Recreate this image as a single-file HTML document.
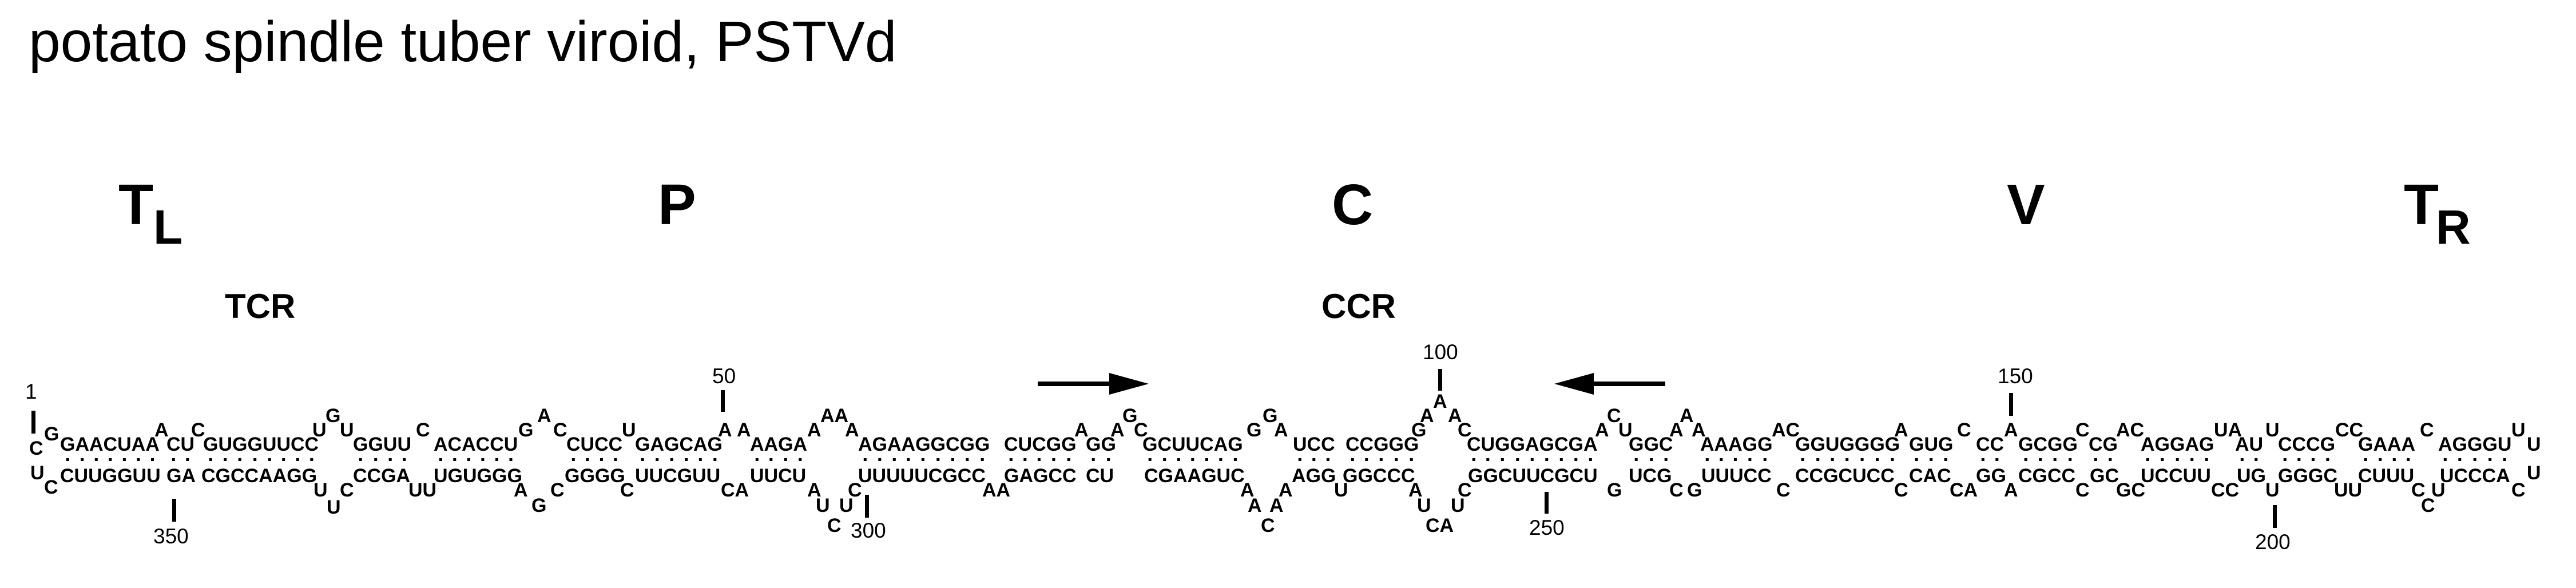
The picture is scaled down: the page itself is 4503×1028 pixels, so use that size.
<!DOCTYPE html>
<html><head><meta charset="utf-8">
<style>
html,body{margin:0;padding:0;background:#fff;}
svg{display:block;}
text{font-family:"Liberation Sans",Arial,sans-serif;fill:#000;}
.n{font-weight:bold;font-size:34px;}
.num{font-size:37px;}
.reg{font-weight:bold;font-size:100px;}
.sub{font-weight:bold;font-size:84px;}
.mid{font-weight:bold;font-size:60px;}
</style></head><body>
<svg id="s" width="4503" height="1028" viewBox="0 0 4503 1028" xmlns="http://www.w3.org/2000/svg">
<rect width="4503" height="1028" fill="#fff"/>
<text x="50" y="107" font-size="100">potato spindle tuber viroid, PSTVd</text>

<text class="reg" x="207" y="392">T</text><text class="sub" x="268" y="426">L</text>
<text class="reg" x="1150" y="392">P</text>
<text class="reg" x="2328" y="392">C</text>
<text class="reg" x="3508" y="392">V</text>
<text class="reg" x="4202" y="392">T</text><text class="sub" x="4258" y="426">R</text>
<text class="mid" x="393" y="556">TCR</text>
<text class="mid" x="2310" y="556">CCR</text>

<!-- arrows -->
<rect x="1814" y="667" width="128" height="8"/>
<polygon points="1939,652 2008,671 1939,690"/>
<rect x="2783" y="667" width="128" height="8"/>
<polygon points="2786,652 2717,671 2786,690"/>

<!-- ticks & numbers -->
<rect x="55" y="718" width="7" height="40"/><text class="num" x="44" y="697">1</text>
<rect x="301" y="872" width="7" height="40"/><text class="num" x="268" y="950">350</text>
<rect x="1260" y="682" width="7" height="38"/><text class="num" x="1245" y="670">50</text>
<rect x="1512" y="865" width="7" height="40"/><text class="num" x="1487" y="940">300</text>
<rect x="2514" y="645" width="7" height="38"/><text class="num" x="2487" y="628">100</text>
<rect x="2700" y="860" width="7" height="38"/><text class="num" x="2673" y="935">250</text>
<rect x="3512" y="687" width="7" height="40"/><text class="num" x="3492" y="670">150</text>
<rect x="3973" y="883" width="7" height="40"/><text class="num" x="3942" y="960">200</text>

<!-- left end -->
<text class="n" x="51" y="795">C</text>
<text class="n" x="53" y="838">U</text>
<text class="n" x="77" y="770">G</text>
<text class="n" x="77" y="863">C</text>

<!-- TOP STRAND -->
<text class="n p" x="105" y="788">GAACUAA</text>
<text class="n" x="270" y="763">A</text>
<text class="n p" x="291" y="788">CU</text>
<text class="n" x="334" y="763">C</text>
<text class="n p" x="355" y="788">GUGGUUCC</text>
<text class="n" x="546" y="763">U</text>
<text class="n" x="569" y="738">G</text>
<text class="n" x="594" y="763">U</text>
<text class="n p" x="617" y="788">GGUU</text>
<text class="n" x="727" y="763">C</text>
<text class="n p" x="758" y="788">ACACCU</text>
<text class="n" x="906" y="763">G</text>
<text class="n" x="939" y="738">A</text>
<text class="n" x="967" y="763">C</text>
<text class="n p" x="990" y="788">CUCC</text>
<text class="n" x="1087" y="763">U</text>
<text class="n p" x="1110" y="788">GAGCAG</text>
<text class="n" x="1255" y="763">A</text>
<text class="n" x="1288" y="763">A</text>
<text class="n p" x="1311" y="788">AAGA</text>
<text class="n" x="1411" y="763">A</text>
<text class="n" x="1434" y="738">AA</text>
<text class="n" x="1477" y="763">A</text>
<text class="n p" x="1500" y="788">AGAAGGCGG</text>
<text class="n p" x="1755" y="788">CUCGG</text>
<text class="n" x="1878" y="763">A</text>
<text class="n p" x="1898" y="788">GG</text>
<text class="n" x="1941" y="763">A</text>
<text class="n" x="1962" y="738">G</text>
<text class="n" x="1982" y="763">C</text>
<text class="n p" x="1997" y="788">GCUUCAG</text>
<text class="n" x="2179" y="763">G</text>
<text class="n" x="2207" y="738">G</text>
<text class="n" x="2227" y="763">A</text>
<text class="n p" x="2260" y="788">UCC</text>
<text class="n p" x="2352" y="788">CCGGG</text>
<text class="n" x="2467" y="763">G</text>
<text class="n" x="2482" y="738">A</text>
<text class="n" x="2505" y="713">A</text>
<text class="n" x="2531" y="738">A</text>
<text class="n" x="2548" y="763">C</text>
<text class="n p" x="2564" y="788">CUGGAGCGA</text>
<text class="n" x="2788" y="763">A</text>
<text class="n" x="2809" y="738">C</text>
<text class="n" x="2829" y="763">U</text>
<text class="n p" x="2847" y="788">GGC</text>
<text class="n" x="2918" y="763">A</text>
<text class="n" x="2936" y="738">A</text>
<text class="n" x="2957" y="763">A</text>
<text class="n p" x="2972" y="788">AAAGG</text>
<text class="n" x="3097" y="763">AC</text>
<text class="n p" x="3138" y="788">GGUGGGG</text>
<text class="n" x="3311" y="763">A</text>
<text class="n p" x="3337" y="788">GUG</text>
<text class="n" x="3421" y="763">C</text>
<text class="n p" x="3454" y="788">CC</text>
<text class="n" x="3503" y="763">A</text>
<text class="n p" x="3528" y="788">GCGG</text>
<text class="n" x="3628" y="763">C</text>
<text class="n p" x="3651" y="788">CG</text>
<text class="n" x="3699" y="763">AC</text>
<text class="n p" x="3742" y="788">AGGAG</text>
<text class="n" x="3870" y="763">UA</text>
<text class="n p" x="3907" y="788">AU</text>
<text class="n" x="3960" y="763">U</text>
<text class="n p" x="3982" y="788">CCCG</text>
<text class="n" x="4082" y="763">CC</text>
<text class="n p" x="4122" y="788">GAAA</text>
<text class="n" x="4230" y="763">C</text>
<text class="n p" x="4262" y="788">AGGGU</text>
<text class="n" x="4390" y="763">U</text>
<text class="n" x="4417" y="788">U</text>

<!-- BOTTOM STRAND -->
<text class="n" x="105" y="843">CUUGGUU</text>
<text class="n" x="291" y="843">GA</text>
<text class="n" x="352" y="843">CGCCAAGG</text>
<text class="n" x="548" y="868">U</text>
<text class="n" x="571" y="898">U</text>
<text class="n" x="594" y="868">C</text>
<text class="n" x="617" y="843">CCGA</text>
<text class="n" x="714" y="868">UU</text>
<text class="n" x="758" y="843">UGUGGG</text>
<text class="n" x="898" y="868">A</text>
<text class="n" x="929" y="895">G</text>
<text class="n" x="962" y="868">C</text>
<text class="n" x="987" y="843">GGGG</text>
<text class="n" x="1084" y="868">C</text>
<text class="n" x="1110" y="843">UUCGUU</text>
<text class="n" x="1260" y="868">CA</text>
<text class="n" x="1311" y="843">UUCU</text>
<text class="n" x="1411" y="868">A</text>
<text class="n" x="1426" y="895">U</text>
<text class="n" x="1446" y="930">C</text>
<text class="n" x="1467" y="895">U</text>
<text class="n" x="1482" y="868">C</text>
<text class="n" x="1500" y="843">UUUUUCGCC</text>
<text class="n" x="1717" y="868">AA</text>
<text class="n" x="1755" y="843">GAGCC</text>
<text class="n" x="1898" y="843">CU</text>
<text class="n" x="2000" y="843">CGAAGUC</text>
<text class="n" x="2168" y="868">A</text>
<text class="n" x="2181" y="895">A</text>
<text class="n" x="2204" y="930">C</text>
<text class="n" x="2219" y="895">A</text>
<text class="n" x="2235" y="868">A</text>
<text class="n" x="2258" y="843">AGG</text>
<text class="n" x="2332" y="868">U</text>
<text class="n" x="2347" y="843">GGCCC</text>
<text class="n" x="2462" y="868">A</text>
<text class="n" x="2477" y="895">U</text>
<text class="n" x="2492" y="930">CA</text>
<text class="n" x="2536" y="895">U</text>
<text class="n" x="2548" y="868">C</text>
<text class="n" x="2566" y="843">GGCUUCGCU</text>
<text class="n" x="2809" y="868">G</text>
<text class="n" x="2847" y="843">UCG</text>
<text class="n" x="2918" y="868">C</text>
<text class="n" x="2949" y="868">G</text>
<text class="n" x="2974" y="843">UUUCC</text>
<text class="n" x="3105" y="868">C</text>
<text class="n" x="3138" y="843">CCGCUCC</text>
<text class="n" x="3311" y="868">C</text>
<text class="n" x="3337" y="843">CAC</text>
<text class="n" x="3408" y="868">CA</text>
<text class="n" x="3454" y="843">GG</text>
<text class="n" x="3503" y="868">A</text>
<text class="n" x="3528" y="843">CGCC</text>
<text class="n" x="3628" y="868">C</text>
<text class="n" x="3653" y="843">GC</text>
<text class="n" x="3699" y="868">GC</text>
<text class="n" x="3742" y="843">UCCUU</text>
<text class="n" x="3865" y="868">CC</text>
<text class="n" x="3910" y="843">UG</text>
<text class="n" x="3960" y="868">U</text>
<text class="n" x="3982" y="843">GGGC</text>
<text class="n" x="4080" y="868">UU</text>
<text class="n" x="4122" y="843">CUUU</text>
<text class="n" x="4215" y="868">C</text>
<text class="n" x="4232" y="895">C</text>
<text class="n" x="4250" y="868">U</text>
<text class="n" x="4265" y="843">UCCCA</text>
<text class="n" x="4390" y="868">C</text>
<text class="n" x="4417" y="838">U</text>
<g id="dots"></g>
</svg>
<script>
(function(){
  var g=document.getElementById('dots');
  var els=document.querySelectorAll('text.p');
  for(var i=0;i<els.length;i++){
    var t=els[i],n=t.textContent.length;
    for(var k=0;k<n;k++){
      var b;
      try{b=t.getExtentOfChar(k);}catch(e){continue;}
      var cx=b.x+b.width/2;
      var r=document.createElementNS('http://www.w3.org/2000/svg','rect');
      r.setAttribute('x',(cx-2.5).toFixed(1));
      r.setAttribute('y','801');
      r.setAttribute('width','5');
      r.setAttribute('height','5');
      g.appendChild(r);
    }
  }
})();
</script>
</body></html>
